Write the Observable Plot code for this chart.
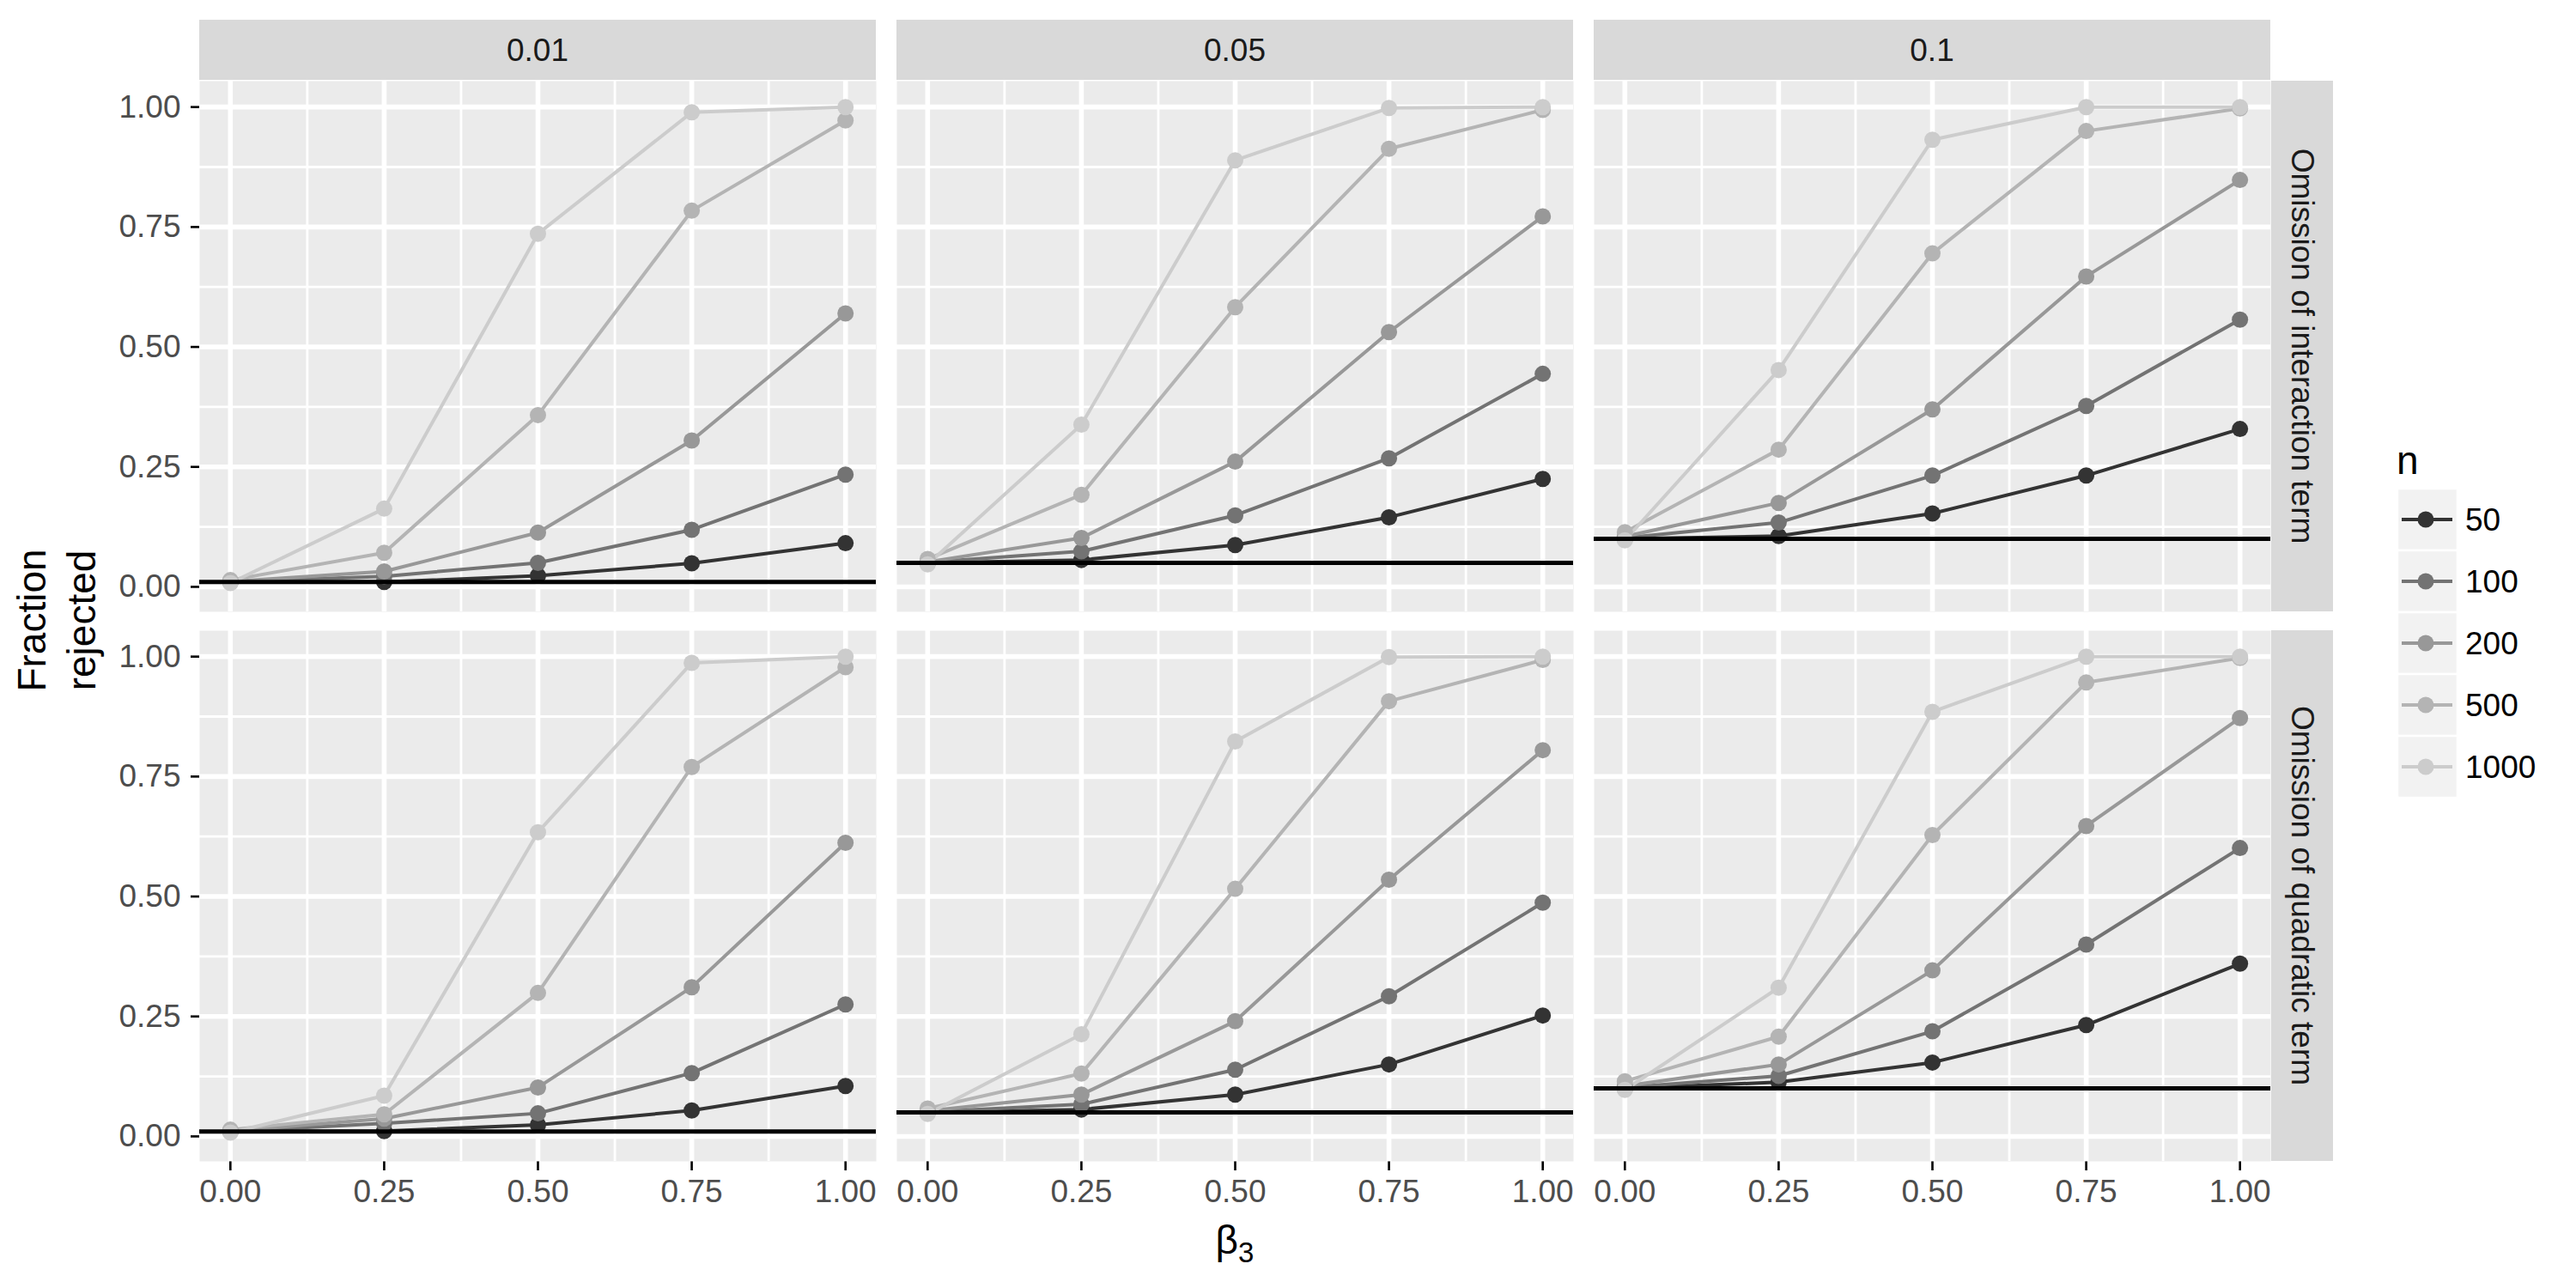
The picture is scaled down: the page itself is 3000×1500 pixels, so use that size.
<!DOCTYPE html>
<html>
<head>
<meta charset="utf-8">
<script src="https://cdn.jsdelivr.net/npm/d3@7"></script>
<script src="https://cdn.jsdelivr.net/npm/@observablehq/plot@0.6"></script>
<style>
  html, body { margin: 0; padding: 0; background: #fff; overflow: hidden; }
  #chart svg { display: block; }
  #chart g[aria-label="x-axis tick"], #chart g[aria-label="y-axis tick"] { stroke: #333333; stroke-width: 2.6px; }
  #chart g[aria-label="x-axis tick label"], #chart g[aria-label="y-axis tick label"] { fill: #4D4D4D; }
</style>
</head>
<body>
<div id="chart"></div>
<script>
// ---------------- data ----------------
const betas = [0, 0.25, 0.5, 0.75, 1];
const alphaLabels = ["0.01", "0.05", "0.1"];
const alphaValues = [0.01, 0.05, 0.1];
const types = ["Omission of interaction term", "Omission of quadratic term"];
const nLevels = ["50", "100", "200", "500", "1000"];
const greys = ["#333333", "#737373", "#989898", "#B4B4B4", "#CCCCCC"];
const yTicks = [0, 0.25, 0.5, 0.75, 1];
const yMinor = [0.125, 0.375, 0.625, 0.875];
const xTicks = [0, 0.25, 0.5, 0.75, 1];
const xMinor = [0.125, 0.375, 0.625, 0.875];

// rows: n = 50, 100, 200, 500, 1000 ; columns: beta3 = 0, .25, .5, .75, 1
const interaction_001 = [
  [0.010, 0.010, 0.023, 0.049, 0.091],
  [0.010, 0.022, 0.050, 0.119, 0.234],
  [0.011, 0.032, 0.113, 0.305, 0.570],
  [0.014, 0.071, 0.358, 0.784, 0.972],
  [0.008, 0.163, 0.736, 0.989, 1.000]
];
const interaction_005 = [
  [0.050, 0.056, 0.087, 0.145, 0.225],
  [0.051, 0.074, 0.149, 0.268, 0.444],
  [0.052, 0.102, 0.261, 0.531, 0.772],
  [0.058, 0.192, 0.583, 0.913, 0.994],
  [0.047, 0.338, 0.889, 0.998, 1.000]
];
const interaction_01 = [
  [0.100, 0.106, 0.153, 0.232, 0.329],
  [0.102, 0.134, 0.232, 0.377, 0.557],
  [0.105, 0.175, 0.370, 0.647, 0.848],
  [0.114, 0.286, 0.695, 0.950, 0.997],
  [0.097, 0.452, 0.932, 1.000, 1.000]
];
const quadratic_001 = [
  [0.010, 0.011, 0.024, 0.054, 0.105],
  [0.010, 0.027, 0.048, 0.132, 0.275],
  [0.011, 0.037, 0.102, 0.311, 0.612],
  [0.014, 0.046, 0.299, 0.770, 0.978],
  [0.008, 0.085, 0.634, 0.987, 1.000]
];
const quadratic_005 = [
  [0.050, 0.056, 0.087, 0.150, 0.252],
  [0.051, 0.067, 0.139, 0.292, 0.487],
  [0.053, 0.087, 0.240, 0.535, 0.805],
  [0.058, 0.131, 0.516, 0.907, 0.993],
  [0.047, 0.213, 0.823, 0.999, 1.000]
];
const quadratic_01 = [
  [0.100, 0.113, 0.154, 0.232, 0.360],
  [0.102, 0.126, 0.219, 0.400, 0.601],
  [0.105, 0.150, 0.346, 0.647, 0.872],
  [0.115, 0.208, 0.628, 0.946, 0.997],
  [0.097, 0.310, 0.885, 1.000, 1.000]
];

// ---------------- build tables ----------------
const panels = [
  [types[0], alphaLabels[0], interaction_001],
  [types[0], alphaLabels[1], interaction_005],
  [types[0], alphaLabels[2], interaction_01],
  [types[1], alphaLabels[0], quadratic_001],
  [types[1], alphaLabels[1], quadratic_005],
  [types[1], alphaLabels[2], quadratic_01]
];
const rows = [];
for (const [type, alpha, table] of panels) {
  table.forEach((vals, i) => {
    vals.forEach((v, j) => rows.push({type, alpha, n: nLevels[i], beta: betas[j], frac: v}));
  });
}
const hlines = [];
for (const type of types) alphaLabels.forEach((a, i) => hlines.push({type, alpha: a, value: alphaValues[i]}));

// ---------------- plot ----------------
const W = 3000, H = 1500;
const mL = 232, mR = 355, mT = 93, mB = 148;
const font = "'Liberation Sans', Arial, Helvetica, sans-serif";

const plot = Plot.plot({
  width: W, height: H,
  marginLeft: mL, marginRight: mR, marginTop: mT, marginBottom: mB,
  style: {fontFamily: font, fontSize: "37px", background: "white", overflow: "visible"},
  fx: {domain: alphaLabels, paddingInner: 0.0295, paddingOuter: 0, axis: null, label: null},
  fy: {domain: types, paddingInner: 0.0344, paddingOuter: 0, axis: null, label: null},
  x: {domain: [-0.05, 1.05], ticks: xTicks, tickFormat: d3.format(".2f"), tickSize: 11, tickPadding: 10, label: null},
  y: {domain: [-0.052, 1.054], ticks: yTicks, tickFormat: d3.format(".2f"), tickSize: 10, tickPadding: 12, label: null},
  color: {domain: nLevels, range: greys},
  marks: [
    Plot.frame({fill: "#EBEBEB", stroke: null}),
    Plot.ruleY(yMinor, {stroke: "white", strokeWidth: 2.8}),
    Plot.ruleX(xMinor, {stroke: "white", strokeWidth: 2.8}),
    Plot.ruleY(yTicks, {stroke: "white", strokeWidth: 5.6}),
    Plot.ruleX(xTicks, {stroke: "white", strokeWidth: 5.6}),
    Plot.line(rows, {x: "beta", y: "frac", z: d => d.n, stroke: "n", fx: "alpha", fy: "type", strokeWidth: 4}),
    Plot.dot(rows, {x: "beta", y: "frac", fill: "n", fx: "alpha", fy: "type", r: 9.5}),
    Plot.ruleY(hlines, {y: "value", fx: "alpha", fy: "type", stroke: "black", strokeWidth: 5})
  ]
});

document.getElementById("chart").appendChild(plot);

// ---------------- strips, titles, legend ----------------
const svg = d3.select(plot);
const fxS = plot.scale("fx"), fyS = plot.scale("fy"), colorS = plot.scale("color");
const stripH = 70, stripW = 72;
const g = svg.append("g").attr("font-family", font);

for (const a of alphaLabels) {
  const x0 = fxS.apply(a), bw = fxS.bandwidth;
  g.append("rect").attr("x", x0).attr("y", mT - stripH).attr("width", bw).attr("height", stripH).attr("fill", "#D9D9D9");
  g.append("text").attr("x", x0 + bw / 2).attr("y", mT - stripH / 2).attr("text-anchor", "middle")
    .attr("dominant-baseline", "central").attr("font-size", 37).attr("fill", "#1A1A1A").text(a);
}
for (const t of types) {
  const y0 = fyS.apply(t), bh = fyS.bandwidth;
  const xs = W - mR;
  g.append("rect").attr("x", xs).attr("y", y0).attr("width", stripW).attr("height", bh).attr("fill", "#D9D9D9");
  g.append("text").attr("transform", `translate(${xs + stripW / 2},${y0 + bh / 2}) rotate(90)`)
    .attr("text-anchor", "middle").attr("dominant-baseline", "central")
    .attr("font-size", 37).attr("fill", "#1A1A1A").text(t);
}

// y-axis title (two lines)
const yMid = mT + (H - mT - mB) / 2;
["Fraction", "rejected"].forEach((s, i) => {
  g.append("text").attr("transform", `translate(${37 + i * 58},${yMid}) rotate(-90)`)
    .attr("text-anchor", "middle").attr("dominant-baseline", "central")
    .attr("font-size", 46).attr("fill", "black").text(s);
});

// x-axis title β3
const xMid = fxS.apply(alphaLabels[1]) + fxS.bandwidth / 2;
const xt = g.append("text").attr("x", xMid).attr("y", 1460).attr("text-anchor", "middle")
  .attr("font-size", 46).attr("fill", "black");
xt.append("tspan").text("β");
xt.append("tspan").attr("font-size", 33).attr("dy", 10).text("3");

// legend
const lg = g.append("g").attr("text-anchor", "start");
const lx = 2792, ly = 569, keyW = 70, keyH = 72;
lg.append("text").attr("x", lx - 1).attr("y", 552).attr("text-anchor", "start")
  .attr("font-size", 46).attr("fill", "black").text("n");
nLevels.forEach((n, i) => {
  const y = ly + i * keyH;
  lg.append("rect").attr("x", lx).attr("y", y).attr("width", keyW).attr("height", keyH)
    .attr("fill", "#F2F2F2").attr("stroke", "white").attr("stroke-width", 2.5);
  const c = colorS.apply(n);
  lg.append("line").attr("x1", lx + 5).attr("x2", lx + keyW - 6).attr("y1", y + keyH / 2).attr("y2", y + keyH / 2)
    .attr("stroke", c).attr("stroke-width", 4);
  lg.append("circle").attr("cx", lx + keyW / 2 - 2).attr("cy", y + keyH / 2).attr("r", 9.5).attr("fill", c);
  lg.append("text").attr("x", 2871).attr("y", y + keyH / 2).attr("text-anchor", "start")
    .attr("dominant-baseline", "central").attr("font-size", 37).attr("fill", "black").text(n);
});
</script>
</body>
</html>
